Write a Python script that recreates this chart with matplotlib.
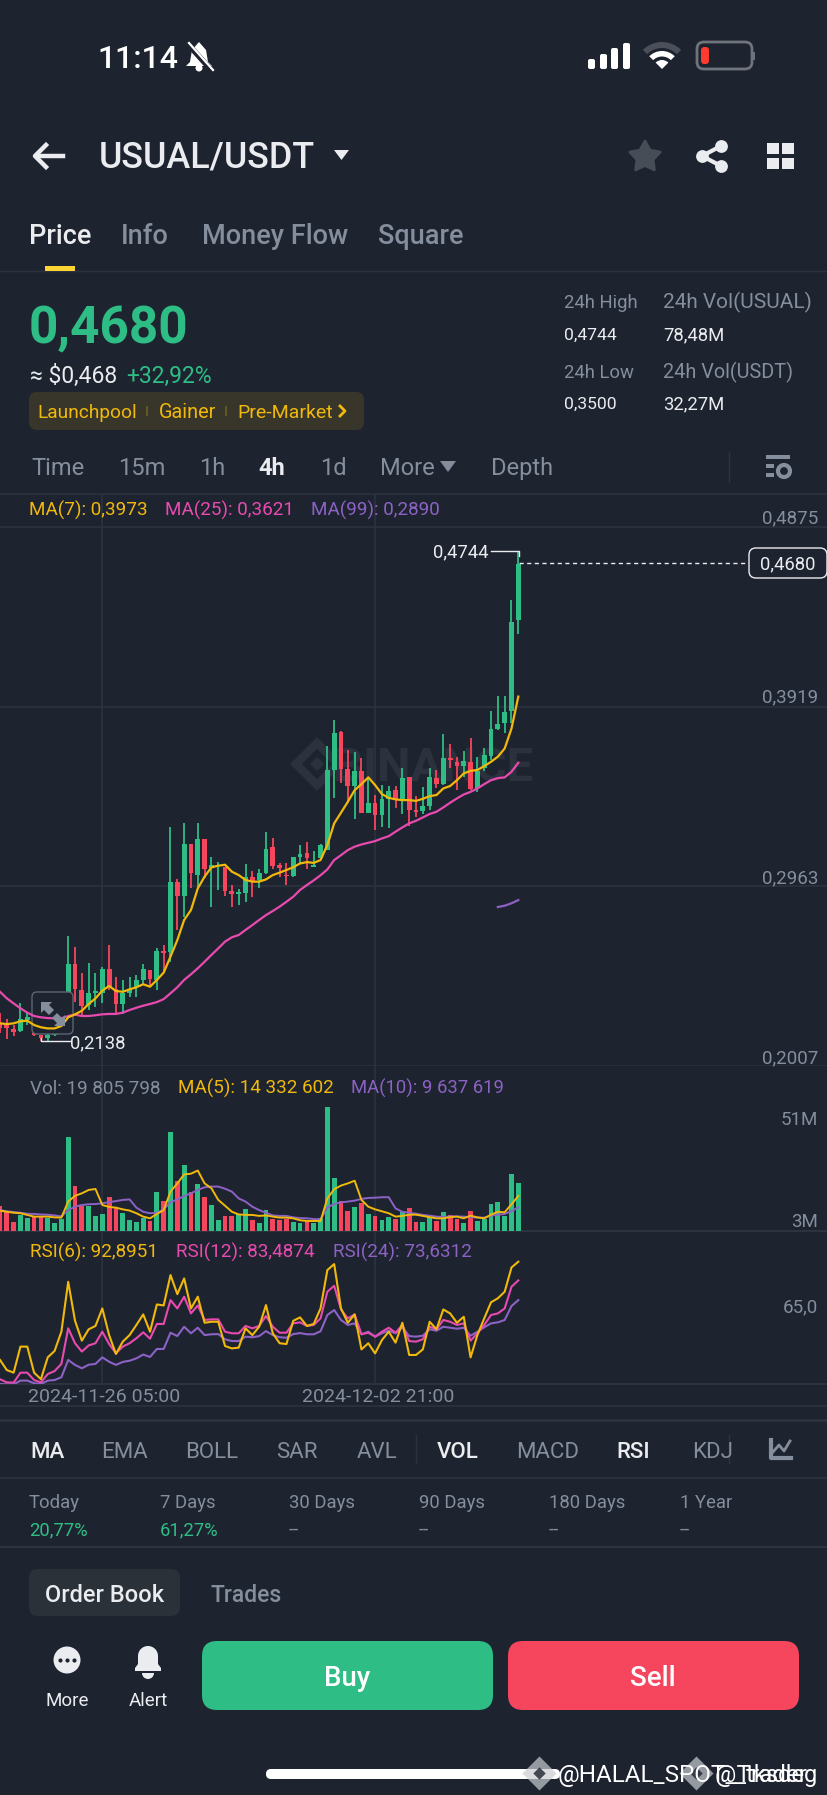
import numpy as np
import matplotlib
matplotlib.use("Agg")
import matplotlib.pyplot as plt
from matplotlib.patches import FancyBboxPatch, Rectangle, Circle, Polygon, Wedge

plt.rcParams['font.family'] = ['Roboto', 'DejaVu Sans']

W, H = 828, 1795

# candles, one row per 4h bar: open, high, low, close
ohlc = [
    (.2234, .2287, .2181, .2207), (.2234, .2255, .2149, .2207), (.2202, .2225, .2167, .2190),
    (.2195, .2340, .2190, .2255), (.2252, .2296, .2225, .2266), (.2181, .2184, .2167, .2172),
    (.2174, .2174, .2138, .2154), (.2154, .2177, .2142, .2174), (.2174, .2230, .2165, .2200),
    (.2200, .2260, .2190, .2225), (.2252, .2701, .2207, .2550), (.2550, .2638, .2349, .2417),
    (.2411, .2500, .2269, .2326), (.2332, .2553, .2305, .2394), (.2397, .2500, .2323, .2408),
    (.2394, .2532, .2344, .2521), (.2521, .2649, .2411, .2429), (.2415, .2482, .2287, .2337),
    (.2337, .2465, .2282, .2394), (.2394, .2482, .2372, .2411), (.2426, .2491, .2372, .2465),
    (.2465, .2550, .2438, .2521), (.2518, .2518, .2426, .2468), (.2465, .2637, .2411, .2619),
    (.2619, .2651, .2500, .2608), (.2615, .3281, .2562, .2984), (.2984, .3002, .2731, .2912),
    (.2912, .3298, .2802, .3187), (.3187, .3187, .2956, .3032), (.3023, .3298, .2956, .3213),
    (.3213, .3213, .3006, .3054), (.3059, .3121, .2851, .3077), (.3064, .3094, .2944, .3068),
    (.3064, .3064, .2912, .2938), (.2938, .2970, .2855, .2922), (.2922, .2947, .2864, .2931),
    (.2926, .3082, .2881, .3015), (.3015, .3046, .2908, .2991), (.2997, .3054, .2952, .3036),
    (.3036, .3250, .3029, .3160), (.3171, .3219, .3054, .3073), (.3077, .3089, .3015, .3059),
    (.3023, .3089, .2970, .3016), (.3020, .3117, .3015, .3117), (.3117, .3183, .3085, .3135),
    (.3138, .3197, .3058, .3112), (.3067, .3152, .3064, .3076), (.3112, .3186, .3112, .3183),
    (.3159, .3709, .3156, .3582), (.3582, .3848, .3431, .3780), (.3786, .3789, .3511, .3585),
    (.3587, .3688, .3404, .3498), (.3497, .3679, .3319, .3576), (.3576, .3644, .3351, .3355),
    (.3356, .3546, .3351, .3404), (.3404, .3449, .3262, .3342), (.3342, .3502, .3280, .3426),
    (.3426, .3497, .3275, .3472), (.3475, .3497, .3378, .3426), (.3422, .3591, .3346, .3541),
    (.3543, .3543, .3284, .3372), (.3369, .3443, .3333, .3360), (.3365, .3493, .3346, .3390),
    (.3390, .3591, .3369, .3543), (.3537, .3582, .3484, .3507), (.3507, .3772, .3502, .3644),
    (.3647, .3718, .3591, .3635), (.3626, .3649, .3475, .3603), (.3603, .3685, .3546, .3631),
    (.3626, .3750, .3475, .3481), (.3484, .3649, .3466, .3578), (.3591, .3697, .3578, .3662),
    (.3656, .3896, .3635, .3798), (.3798, .3976, .3795, .3827), (.3830, .3976, .3780, .3892),
    (.3896, .4486, .3834, .4371), (.4380, .4744, .4306, .4680),
]

ma7 = [.2234, .2230, .2234, .2245, .2248, .2225, .2213, .2207, .2207, .2220, .2266, .2282, .2301,
       .2337, .2367, .2408, .2433, .2406, .2402, .2415, .2426, .2442, .2429, .2465, .2504, .2589,
       .2677, .2784, .2837, .2952, .3015, .3064, .3073, .3078, .3041, .3023, .2997, .2988, .2988,
       .3000, .3023, .3036, .3050, .3065, .3085, .3092, .3088, .3103, .3183, .3298, .3355, .3413,
       .3475, .3507, .3543, .3502, .3454, .3434, .3426, .3422, .3422, .3418, .3429, .3443, .3449,
       .3484, .3497, .3528, .3564, .3578, .3582, .3603, .3626, .3653, .3697, .3803, .3973]
ma25 = [.2402, .2367, .2340, .2314, .2291, .2273, .2266, .2262, .2261, .2261, .2273, .2280, .2273,
        .2273, .2277, .2282, .2284, .2284, .2291, .2305, .2317, .2328, .2337, .2347, .2363, .2394,
        .2426, .2465, .2495, .2527, .2562, .2598, .2633, .2669, .2692, .2704, .2731, .2757, .2784,
        .2810, .2832, .2855, .2881, .2908, .2944, .2970, .2995, .3022, .3053, .3103, .3129, .3156,
        .3174, .3186, .3195, .3204, .3218, .3230, .3254, .3277, .3298, .3312, .3330, .3348, .3360,
        .3383, .3408, .3431, .3452, .3466, .3484, .3507, .3528, .3539, .3543, .3573, .3621]
# only the tail of MA(99) is on screen
ma99_idx = [73, 74, 75, 76]
ma99 = [.2853, .2860, .2873, .2890]

# volume in millions
vol = [10.2, 7.8, 3.7, 6.3, 5.1, 5.8, 5.8, 5.1, 3.3, 4.7, 38.8, 18.6, 10.3, 10.3, 6.2, 6.7, 13.9, 9.2,
       7.2, 4.4, 3.6, 5.1, 4.0, 16.0, 12.4, 40.7, 20.5, 27.1, 15.8, 19.1, 13.9, 10.6, 4.5, 6.2, 6.2,
       6.9, 9.1, 4.5, 3.0, 8.7, 5.0, 4.4, 5.0, 3.7, 3.0, 4.0, 3.0, 5.1, 50.9, 21.7, 12.4, 8.0, 9.6,
       11.3, 6.9, 6.1, 4.4, 5.6, 4.8, 7.6, 9.4, 3.6, 3.7, 5.6, 4.0, 7.8, 6.6, 4.7, 3.2, 8.1, 4.0, 5.0,
       11.0, 11.7, 6.1, 23.2, 19.8]
vol_ma5 = [8.3, 7.8, 7.4, 7.2, 6.5, 5.8, 5.8, 5.8, 5.5, 5.4, 12.0, 14.4, 15.4, 16.8, 17.2, 10.6, 9.8,
           9.5, 8.8, 8.3, 7.2, 5.8, 5.1, 6.9, 8.5, 16.1, 19.5, 23.2, 23.5, 24.8, 19.5, 17.5, 12.7, 10.3,
           7.8, 6.7, 6.5, 6.5, 6.1, 6.3, 5.8, 5.4, 5.4, 5.1, 4.3, 4.0, 4.0, 4.0, 13.3, 17.1, 18.6, 19.5,
           20.6, 12.7, 9.9, 8.8, 8.0, 7.2, 5.8, 6.1, 6.6, 6.6, 6.1, 5.6, 5.1, 5.1, 5.6, 5.8, 5.1, 6.2,
           5.5, 5.1, 6.6, 7.8, 7.6, 10.9, 14.3]
vol_ma10 = [8.5, 8.0, 7.7, 7.4, 7.0, 6.9, 6.7, 6.6, 6.3, 5.9, 8.5, 9.9, 10.6, 10.9, 11.0, 11.3, 11.8,
            12.2, 12.7, 12.9, 9.5, 7.8, 7.2, 7.4, 8.8, 11.7, 12.9, 14.3, 15.4, 16.8, 17.9, 18.2, 18.2,
            17.3, 16.1, 13.3, 12.0, 9.9, 8.5, 7.4, 6.3, 6.1, 6.1, 5.5, 5.2, 5.1, 4.8, 4.7, 9.6, 11.0,
            11.7, 12.0, 12.4, 13.1, 13.5, 13.6, 13.8, 13.8, 9.2, 7.8, 7.4, 7.0, 6.5, 6.2, 5.8, 5.6, 5.9,
            5.9, 5.8, 5.6, 5.4, 5.4, 6.2, 6.6, 6.9, 8.1, 9.6]

rsi6 = [43.5, 38.4, 37.1, 50.2, 50.2, 37.1, 33.8, 44.8, 48.0, 57.7, 82.8, 63.2, 53.2, 58.9, 60.6, 69.4,
        56.0, 46.5, 52.7, 56.0, 61.1, 66.4, 57.7, 71.4, 70.9, 86.2, 76.6, 84.5, 69.4, 75.3, 62.2, 62.7,
        62.7, 50.5, 49.3, 49.7, 59.4, 56.0, 60.2, 71.1, 56.9, 51.9, 51.5, 63.2, 64.9, 60.6, 61.6, 69.4,
        88.7, 91.7, 69.4, 62.2, 66.4, 48.8, 51.9, 46.8, 53.5, 57.7, 52.2, 62.2, 46.0, 46.0, 48.8, 62.7,
        58.9, 68.9, 66.9, 62.2, 65.2, 44.8, 56.0, 64.4, 72.5, 74.5, 77.8, 90.0, 92.9]
rsi12 = [33.8, 32.2, 32.1, 37.1, 37.1, 33.4, 32.2, 36.4, 37.9, 41.5, 59.4, 51.9, 47.7, 50.8, 51.9, 57.7,
         51.5, 46.8, 50.2, 51.9, 54.4, 57.4, 54.2, 61.6, 61.6, 73.6, 69.4, 75.3, 66.9, 70.9, 63.6, 63.9,
         63.9, 57.7, 56.9, 56.9, 60.6, 59.4, 60.6, 65.6, 60.2, 57.2, 57.2, 61.9, 62.4, 60.6, 61.1, 64.4,
         77.8, 80.8, 68.9, 64.4, 66.4, 56.4, 57.2, 55.2, 57.7, 59.7, 57.2, 61.1, 53.0, 52.7, 53.9, 60.2,
         58.9, 63.6, 62.7, 61.1, 61.9, 53.2, 56.9, 61.1, 66.1, 66.9, 69.4, 80.3, 83.5]
rsi24 = [31.4, 31.2, 31.2, 33.1, 33.1, 31.8, 31.4, 33.1, 33.4, 34.8, 43.5, 41.0, 39.3, 41.1, 41.5, 44.8,
         42.6, 41.0, 42.5, 43.1, 44.3, 46.2, 45.0, 49.0, 49.0, 57.2, 55.5, 60.2, 56.9, 59.7, 56.0, 56.4,
         56.5, 53.9, 53.0, 53.0, 55.2, 54.9, 55.5, 58.0, 56.0, 54.9, 54.7, 56.5, 57.0, 56.4, 56.4, 57.9,
         66.1, 68.6, 63.6, 61.1, 61.9, 56.4, 57.7, 55.2, 56.9, 58.2, 56.9, 59.9, 55.5, 55.2, 55.7, 58.9,
         58.2, 60.2, 59.7, 59.2, 59.7, 55.7, 57.7, 59.9, 61.9, 62.4, 63.6, 70.6, 73.6]

price_ticks = [0.4875, 0.3919, 0.2963, 0.2007]
date_bars = [15, 55]
date_labels = ["2024-11-26 05:00", "2024-12-02 21:00"]

BG = '#1E2330'
GRID = '#2D333E'
GREEN = '#2EBD85'
RED = '#F6465D'
YEL = '#F0B90B'
PINK = '#E84BAF'
PURP = '#8C62C4'
GRAY = '#848E9C'
LGRAY = '#EAECEF'

fig = plt.figure(figsize=(W / 100, H / 100), dpi=100, facecolor=BG)


def panel(top, bottom):
    ax = fig.add_axes([0, 1 - bottom / H, 1, (bottom - top) / H], zorder=1)
    ax.patch.set_visible(False)
    ax.set_xlim(0, W / 6.82)
    ax.set_xticks([])
    ax.set_yticks([])
    for s in ax.spines.values():
        s.set_visible(False)
    for b in date_bars:
        ax.axvline(b, color=GRID, lw=1.2, zorder=0)
    return ax


# pixel axes for the app chrome, one under and one over the chart
under = fig.add_axes([0, 0, 1, 1], zorder=0)
over = fig.add_axes([0, 0, 1, 1], zorder=5)
for a in (under, over):
    a.set_xlim(0, W)
    a.set_ylim(H, 0)
    a.axis('off')
    a.patch.set_visible(False)


def T(x, y, s, size, color=GRAY, weight='normal', ha='left', ax=over, **kw):
    ax.text(x, y, s, fontsize=size, color=color, fontweight=weight, ha=ha, va='baseline', **kw)


def box(x0, y0, x1, y1, color, r=6, ax=over, **kw):
    ax.add_patch(FancyBboxPatch((x0 + r, y0 + r), x1 - x0 - 2 * r, y1 - y0 - 2 * r,
                                boxstyle=f"round,pad={r},rounding_size={r}",
                                fc=color, ec='none', **kw))


# price panel
ax_p = panel(494, 1066)
ax_p.set_ylim(0.2007, 0.5051)
for p in price_ticks:
    ax_p.axhline(p, color=GRID, lw=1.2, zorder=0)
x = np.arange(len(ohlc))
o, h, l, c = np.array(ohlc).T
colors = [GREEN if cc >= oo else RED for oo, cc in zip(o, c)]
ax_p.vlines(x, l, h, colors=colors, lw=1.3, zorder=2)
ax_p.bar(x, np.maximum(np.abs(c - o), 0.0004), bottom=np.minimum(o, c), width=0.7, color=colors, zorder=2)
ax_p.plot(x, ma25, color=PINK, lw=1.6, zorder=4)
ax_p.plot(x, ma7, color=YEL, lw=1.6, zorder=4)
ax_p.plot(ma99_idx, ma99, color=PURP, lw=1.6, zorder=4)
# expand button sits over the candles but under the MA lines
ax_p.add_patch(FancyBboxPatch((38, 998), 29, 30, boxstyle="round,pad=6,rounding_size=5",
                              fc=BG, ec='#5E6673', lw=1, transform=over.transData, zorder=3))

# volume panel
ax_v = panel(1066, 1230.7)
ax_v.set_ylim(0, 67.9)
ax_v.bar(x, vol, width=0.7, color=colors, zorder=2)
ax_v.plot(x, vol_ma10, color=PURP, lw=1.4, zorder=3)
ax_v.plot(x, vol_ma5, color=YEL, lw=1.4, zorder=4)

# rsi panel
ax_r = panel(1230.7, 1384)
ax_r.set_ylim(31.4, 108.5)
ax_r.plot(x, rsi24, color=PURP, lw=1.5, zorder=2)
ax_r.plot(x, rsi12, color=PINK, lw=1.5, zorder=3)
ax_r.plot(x, rsi6, color=YEL, lw=1.5, zorder=4)

# horizontal rules
for y, lw in [(271, 1), (494, 1.2), (1230.7, 1.5), (1384, 1.5), (1406, 1.2), (1420, 2), (1478, 1.2), (1547, 1.5)]:
    under.plot([0, W], [y, y], color=GRID, lw=lw)

# Binance watermark behind candles
under.add_patch(Polygon([(317, 743), (338, 764), (317, 785), (296, 764)], fc='none', ec='#2B313D', lw=6))
under.add_patch(Polygon([(317, 757), (324, 764), (317, 771), (310, 764)], fc='#2B313D', ec='none'))
T(333, 781, "BINANCE", 34, '#2B313D', 'bold', ax=under)

# status bar (y axis is flipped, so wedges open around 270 degrees)
T(97, 68, "11:14", 23, 'white', 'medium')
over.add_patch(Polygon([(199, 42), (206, 50), (208, 62), (212, 66), (186, 66), (190, 62), (192, 50)], fc='white', ec='none'))
over.add_patch(Circle((199, 68), 3.5, fc='white', ec='none'))
over.plot([187, 212], [43, 71], color=BG, lw=4)
over.plot([189, 213], [43, 70], color='white', lw=1.6)
for bx, by in [(588, 59), (600, 54), (611, 48), (623, 43)]:
    box(bx, by, bx + 7, 69, 'white', r=2)
over.add_patch(Wedge((662, 69), 27, 225, 315, width=6, fc='#4A4F59', ec='none'))
over.add_patch(Wedge((662, 69), 18, 225, 315, width=5.5, fc='white', ec='none'))
over.add_patch(Wedge((662, 69), 9, 225, 315, fc='white', ec='none'))
over.add_patch(FancyBboxPatch((702, 47), 45, 17, boxstyle="round,pad=5,rounding_size=7", fc='none', ec='#6E737C', lw=2))
box(701, 47, 709, 64, '#FF3B30', r=3.5)
over.add_patch(Rectangle((752, 52), 3, 8, fc='#6E737C', ec='none'))

# header
over.plot([37, 63], [156, 156], color=LGRAY, lw=3.2)
over.plot([46, 35, 46], [145, 156, 167], color=LGRAY, lw=3.2)
T(99, 168, "USUAL/USDT", 25.8, LGRAY, 'medium')
over.add_patch(Polygon([(334, 150), (349, 150), (341.5, 160)], fc=LGRAY, ec='none'))
ang = np.deg2rad(np.arange(10) * 36 - 90)
rad = np.array([16, 8.5] * 5)
over.add_patch(Polygon(np.c_[645 + rad * np.cos(ang), 157 + rad * np.sin(ang)], fc='#474D57', ec='#474D57', lw=2, joinstyle='round'))
over.plot([721, 702, 721], [146, 156, 166], color=LGRAY, lw=3)
over.scatter([721, 702, 721], [146, 156, 166], s=85, color=LGRAY, linewidths=0)
for gx in (767, 782):
    for gy in (143, 158):
        over.add_patch(Rectangle((gx, gy), 12, 11, fc=LGRAY, ec='none'))

# tabs
T(29, 244, "Price", 19.5, LGRAY, 'medium')
for tx, s in [(121, "Info"), (202, "Money Flow"), (378, "Square")]:
    T(tx, 244, s, 19.5, GRAY, 'medium')
over.add_patch(Rectangle((45, 266), 30, 5, fc='#FCD535', ec='none'))

# quote block
T(29, 343, "0,4680", 37, GREEN, 'bold')
T(30, 383, "≈ $0,468", 16.5, LGRAY)
T(126, 383, "+32,92%", 16.5, GREEN)
box(29, 392, 364, 430, '#38352B', r=8)
T(37, 418, "Launchpool", 13.8, YEL)
T(159, 418, "Gainer", 14.3, YEL)
T(237, 418, "Pre-Market", 14, YEL)
for sx in (147, 226):
    over.plot([sx, sx], [407, 415], color='#6E5F22', lw=1.2)
over.plot([340, 345, 340], [406, 411, 416], color=YEL, lw=2)

T(564, 308, "24h High", 13.3, GRAY)
T(564, 340, "0,4744", 12.6, LGRAY)
T(564, 378, "24h Low", 13.3, GRAY)
T(564, 409, "0,3500", 12.6, LGRAY)
T(663, 308, "24h Vol(USUAL)", 15, GRAY)
T(663, 340, "78,48M", 13.3, LGRAY)
T(663, 378, "24h Vol(USDT)", 14.3, GRAY)
T(663, 409, "32,27M", 13.3, LGRAY)

# interval row
for tx, s, col, wt in [(31, "Time", GRAY, 'normal'), (118, "15m", GRAY, 'normal'), (199, "1h", GRAY, 'normal'),
                       (258, "4h", LGRAY, 'bold'), (320, "1d", GRAY, 'normal'), (380, "More", GRAY, 'normal'),
                       (491, "Depth", GRAY, 'normal')]:
    T(tx, 475, s, 17, col, wt)
over.add_patch(Polygon([(440, 461), (456, 461), (448, 472)], fc=GRAY, ec='none'))
over.plot([729, 729], [452, 482], color=GRID, lw=1)
over.add_patch(Rectangle((766, 455), 24, 4, fc=GRAY, ec='none'))
over.add_patch(Rectangle((766, 464), 8, 3.5, fc=GRAY, ec='none'))
over.add_patch(Rectangle((766, 473), 8, 3.5, fc=GRAY, ec='none'))
over.add_patch(Circle((784, 471), 6, fc='none', ec=GRAY, lw=3))

# chart legends
T(29, 516, "MA(7): 0,3973", 13.6, YEL)
T(165, 516, "MA(25): 0,3621", 13.6, PINK)
T(311, 516, "MA(99): 0,2890", 13.6, PURP)
T(30, 1094, "Vol: 19 805 798", 13.6, GRAY)
T(178, 1094, "MA(5): 14 332 602", 13.6, YEL)
T(351, 1094, "MA(10): 9 637 619", 13.3, PURP)
T(30, 1258, "RSI(6): 92,8951", 13.6, YEL)
T(176, 1258, "RSI(12): 83,4874", 13.6, PINK)
T(333, 1258, "RSI(24): 73,6312", 13.6, PURP)

# right axis labels
for yy, p in zip([523, 702, 883, 1063], price_ticks):
    T(818, yy, f"{p:.4f}".replace('.', ','), 13.5, GRAY, ha='right')
T(818, 1125, "51M", 13.5, GRAY, ha='right')
T(818, 1227, "3M", 13.5, GRAY, ha='right')
T(818, 1312, "65,0", 13.5, GRAY, ha='right')

# last price tag, high and low marks
over.plot([519, 747], [563, 563], color=LGRAY, lw=1, ls=(0, (3, 2.5)))
over.add_patch(FancyBboxPatch((755, 554), 66, 18, boxstyle="round,pad=6,rounding_size=7", fc=BG, ec=LGRAY, lw=1))
T(788, 569, "0,4680", 13.3, LGRAY, ha='center')
T(433, 557, "0,4744", 13.3, LGRAY)
over.plot([491, 519, 519], [551, 551, 556], color=LGRAY, lw=1)
T(70, 1048, "0,2138", 13.3, LGRAY)
over.plot([41, 41, 70], [1038, 1041, 1041], color=LGRAY, lw=1)

# expand arrows
over.add_patch(Polygon([(41, 1002), (52, 1002), (49, 1005), (54, 1010), (49, 1015), (44, 1010), (41, 1013)], fc=GRAY, ec='none'))
over.add_patch(Polygon([(65, 1026), (54, 1026), (57, 1023), (52, 1018), (57, 1013), (62, 1018), (65, 1015)], fc=GRAY, ec='none'))

# date axis
T(28, 1402, date_labels[0], 14, GRAY)
T(302, 1402, date_labels[1], 14, GRAY)

# indicator row
for tx, s, col, wt in [(30, "MA", LGRAY, 'medium'), (101, "EMA", GRAY, 'normal'), (185, "BOLL", GRAY, 'normal'),
                       (276, "SAR", GRAY, 'normal'), (357, "AVL", GRAY, 'normal'), (437, "VOL", LGRAY, 'medium'),
                       (516, "MACD", GRAY, 'normal'), (616, "RSI", LGRAY, 'medium')]:
    T(tx, 1458, s, 16, col, wt)
kdj = over.text(692, 1458, "KDJ", fontsize=16, color=GRAY, va='baseline', ha='left')
kdj.set_clip_path(Rectangle((0, 0), 729, H, transform=over.transData))
over.plot([416, 416], [1435, 1463], color=GRID, lw=1)
over.plot([729, 729], [1435, 1463], color=GRID, lw=1)
over.plot([771, 771, 791], [1440, 1458, 1458], color=GRAY, lw=3)
over.plot([773, 779, 784, 790], [1452, 1445, 1451, 1441], color=GRAY, lw=2)

# returns row
ret_x = [29, 160, 289, 419, 549, 680]
ret_names = ["Today", "7 Days", "30 Days", "90 Days", "180 Days", "1 Year"]
ret_vals = ["20,77%", "61,27%", "--", "--", "--", "--"]
for tx, n, v in zip(ret_x, ret_names, ret_vals):
    T(tx, 1508, n, 13.3, GRAY)
    T(tx, 1535, v, 13.3, GREEN if v != "--" else GRAY)

# order book tabs
box(29, 1569, 180, 1616, '#2B3139', r=9)
T(45, 1602, "Order Book", 17, LGRAY, 'medium')
T(211, 1602, "Trades", 16.5, GRAY, 'medium')

# bottom bar
over.add_patch(Circle((67, 1660), 13.5, fc=LGRAY, ec='none'))
over.scatter([60, 67, 74], [1660, 1660, 1660], s=9, color=BG, linewidths=0)
over.add_patch(Circle((148, 1656), 10, fc=LGRAY, ec='none'))
over.add_patch(Polygon([(138, 1656), (158, 1656), (158, 1664), (161, 1668), (161, 1671), (135, 1671), (135, 1668), (138, 1664)], fc=LGRAY, ec='none'))
over.add_patch(Wedge((148, 1673), 6, 0, 180, fc=LGRAY, ec='none'))
T(67, 1706, "More", 13.5, LGRAY, ha='center')
T(148, 1706, "Alert", 13.5, LGRAY, ha='center')
box(202, 1641, 493, 1710, GREEN, r=15)
box(508, 1641, 799, 1710, RED, r=15)
T(347, 1686, "Buy", 20, 'white', 'medium', ha='center')
T(653, 1686, "Sell", 20, 'white', 'medium', ha='center')

# home indicator and share watermark
box(266, 1769, 560, 1779, 'white', r=5)
for mx in (539, 696):
    over.scatter([mx], [1773], marker='D', s=300, color='#C9CCD1', alpha=0.7, linewidths=0, zorder=6)
    over.scatter([mx], [1773], marker='D', s=40, color=BG, alpha=0.8, linewidths=0, zorder=6)
T(558, 1782, "@HALAL_SPOT_Trader", 17.5, 'white', zorder=7)
T(715, 1782, "@_tksdeg", 17, 'white', zorder=7)

fig.savefig('out.png', dpi=100, facecolor=BG)
